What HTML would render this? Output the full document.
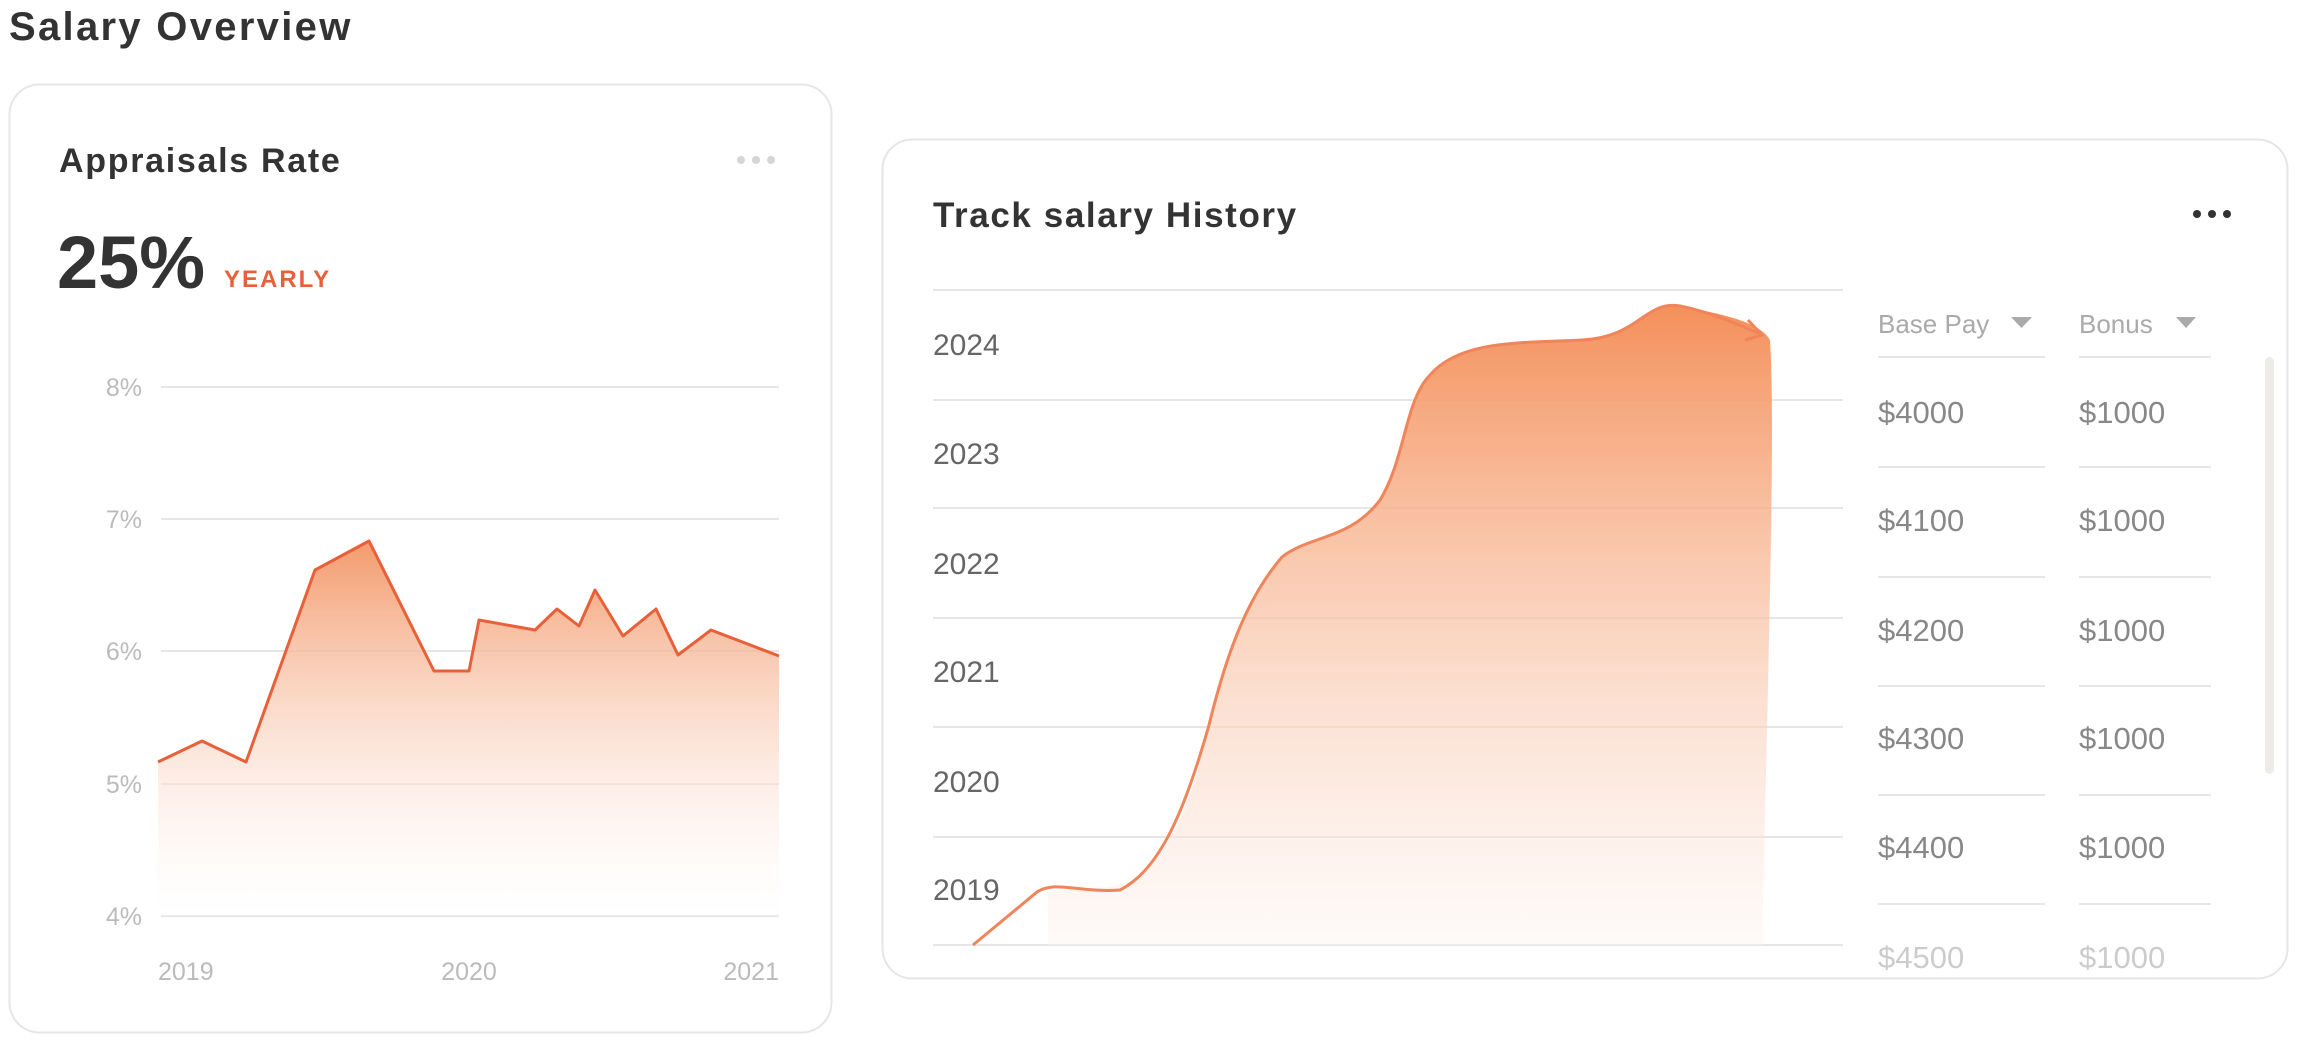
<!DOCTYPE html>
<html><head><meta charset="utf-8"><style>
html,body{margin:0;padding:0;background:#fff;width:2297px;height:1041px;overflow:hidden;font-family:"Liberation Sans",sans-serif}
</style></head><body>
<svg width="2297" height="1041" viewBox="0 0 2297 1041" xmlns="http://www.w3.org/2000/svg" style="position:absolute;left:0;top:0">
<defs>
<linearGradient id="g1" x1="0" y1="0" x2="0" y2="1">
<stop offset="0" stop-color="#f39a6c"/><stop offset="1" stop-color="#fff" stop-opacity="0.2"/></linearGradient>
<linearGradient id="g2" x1="0" y1="0" x2="0" y2="1">
<stop offset="0" stop-color="#f4905a"/><stop offset="1" stop-color="#fdf3ee" stop-opacity="0.4"/></linearGradient>
</defs>
<text x="9" y="40" font-size="40" font-weight="bold" fill="#333" letter-spacing="2.3">Salary Overview</text>
<rect x="9.5" y="84.5" width="822" height="948" rx="30" fill="#fff" stroke="#e6e6e6" stroke-width="2"/>
<text x="59" y="172" font-size="34" font-weight="bold" fill="#333" letter-spacing="1.7">Appraisals Rate</text>
<g fill="#d5d5d5"><circle cx="741" cy="160" r="4"/><circle cx="756" cy="160" r="4"/><circle cx="771" cy="160" r="4"/></g>
<text x="57" y="288" font-size="74" font-weight="bold" fill="#333">25%</text>
<text x="224" y="287" font-size="24" font-weight="bold" fill="#e8603a" letter-spacing="2">YEARLY</text>
<g stroke="#e6e6e6" stroke-width="2"><line x1="161" y1="387" x2="779" y2="387"/><line x1="161" y1="519" x2="779" y2="519"/><line x1="161" y1="651" x2="779" y2="651"/><line x1="161" y1="784" x2="779" y2="784"/><line x1="161" y1="916" x2="779" y2="916"/></g>
<g font-size="25" fill="#bbb" text-anchor="end"><text x="142" y="396">8%</text><text x="142" y="528">7%</text><text x="142" y="660">6%</text><text x="142" y="793">5%</text><text x="142" y="925">4%</text></g>
<g font-size="25" fill="#bbb"><text x="158" y="980">2019</text><text x="469" y="980" text-anchor="middle">2020</text><text x="779" y="980" text-anchor="end">2021</text></g>
<polygon points="158,762 202,741 246,762 315,570 369,541 434,671 469,671 479,620 535,630 557,609 579,626 595,590 623,636 656,609 678,655 711,630 779,656 779,916 158,916" fill="url(#g1)"/>
<polyline points="158,762 202,741 246,762 315,570 369,541 434,671 469,671 479,620 535,630 557,609 579,626 595,590 623,636 656,609 678,655 711,630 779,656" fill="none" stroke="#e8603a" stroke-width="3" stroke-linejoin="round"/>

<rect x="882.5" y="139.5" width="1405" height="839" rx="30" fill="#fff" stroke="#e6e6e6" stroke-width="2"/>
<text x="933" y="227" font-size="35" font-weight="bold" fill="#333" letter-spacing="1.6">Track salary History</text>
<g fill="#333"><circle cx="2197" cy="214" r="4"/><circle cx="2212" cy="214" r="4"/><circle cx="2227" cy="214" r="4"/></g>
<g stroke="#e6e6e6" stroke-width="2"><line x1="933" y1="290" x2="1843" y2="290"/><line x1="933" y1="400" x2="1843" y2="400"/><line x1="933" y1="508" x2="1843" y2="508"/><line x1="933" y1="618" x2="1843" y2="618"/><line x1="933" y1="727" x2="1843" y2="727"/><line x1="933" y1="837" x2="1843" y2="837"/><line x1="933" y1="945" x2="1843" y2="945"/></g>
<g font-size="30" fill="#666"><text x="933" y="355">2024</text><text x="933" y="464">2023</text><text x="933" y="574">2022</text><text x="933" y="682">2021</text><text x="933" y="792">2020</text><text x="933" y="900">2019</text></g>
<path d="M1048,945 L1048,892 C1080,886 1120,892 1140,875 C1170,850 1190,810 1209,725 C1225,660 1245,600 1282,557 C1310,535 1350,540 1380,500 C1405,460 1405,400 1430,375 C1460,340 1520,343 1582,340 C1640,337 1645,300 1680,306 C1710,312 1760,320 1770,340 C1775,420 1770,600 1762,945 Z" fill="url(#g2)"/>
<path d="M973,945 L1037,892 C1055,880 1080,893 1120,890 C1160,870 1185,810 1209,725 C1225,660 1245,600 1282,557 C1310,535 1350,540 1380,500 C1405,460 1405,400 1430,375 C1460,340 1520,343 1582,340 C1640,337 1645,300 1680,306 C1710,312 1740,325 1762,335" fill="none" stroke="#f0845a" stroke-width="3"/>
<path d="M1748,320 L1762,335 L1745,340" fill="none" stroke="#f0845a" stroke-width="3"/>
<g font-size="26" fill="#aaa"><text x="1878" y="333">Base Pay</text><text x="2079" y="333">Bonus</text></g>
<g fill="#aaa"><polygon points="2011,317 2032,317 2021.5,328"/><polygon points="2176,317 2196,317 2186,328"/></g>
<g stroke="#e6e6e6" stroke-width="2">
<line x1="1878" y1="357" x2="2045" y2="357"/><line x1="2079" y1="357" x2="2211" y2="357"/>
<line x1="1878" y1="467" x2="2045" y2="467"/><line x1="2079" y1="467" x2="2211" y2="467"/>
<line x1="1878" y1="577" x2="2045" y2="577"/><line x1="2079" y1="577" x2="2211" y2="577"/>
<line x1="1878" y1="686" x2="2045" y2="686"/><line x1="2079" y1="686" x2="2211" y2="686"/>
<line x1="1878" y1="795" x2="2045" y2="795"/><line x1="2079" y1="795" x2="2211" y2="795"/>
<line x1="1878" y1="904" x2="2045" y2="904"/><line x1="2079" y1="904" x2="2211" y2="904"/></g>
<g font-size="31" fill="#888">
<text x="1878" y="423">$4000</text><text x="2079" y="423">$1000</text>
<text x="1878" y="531">$4100</text><text x="2079" y="531">$1000</text>
<text x="1878" y="641">$4200</text><text x="2079" y="641">$1000</text>
<text x="1878" y="749">$4300</text><text x="2079" y="749">$1000</text>
<text x="1878" y="858">$4400</text><text x="2079" y="858">$1000</text>
<text x="1878" y="968" fill="#ccc">$4500</text><text x="2079" y="968" fill="#ccc">$1000</text></g>
<rect x="2265" y="357" width="9" height="417" rx="4.5" fill="#eeece8"/>
</svg>
</body></html>
